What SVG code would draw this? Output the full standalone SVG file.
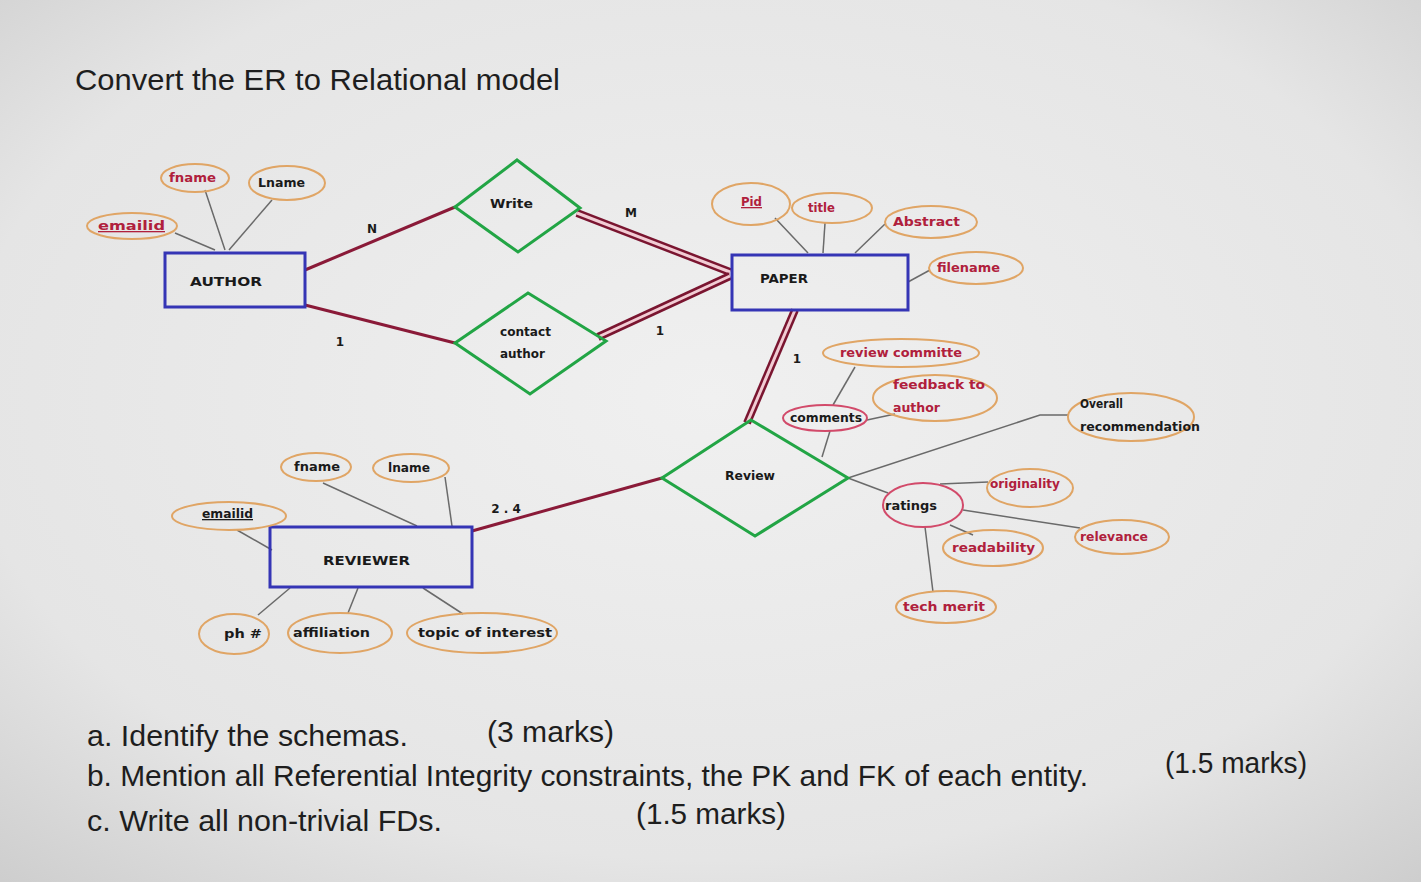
<svg xmlns="http://www.w3.org/2000/svg" width="1421" height="882" viewBox="0 0 1421 882">
<defs>
<radialGradient id="bg" cx="0.5" cy="0.45" r="0.75">
<stop offset="0" stop-color="#f0f0f0"/>
<stop offset="0.7" stop-color="#e5e5e5"/>
<stop offset="1" stop-color="#cdcdcd"/>
</radialGradient>
<style>
.ent{fill:none;stroke:#3535b5;stroke-width:3}
.rel{fill:none;stroke:#22a545;stroke-width:3}
.att{fill:none;stroke:#e0a565;stroke-width:2}
.attr{fill:none;stroke:#d24a6a;stroke-width:2}
.al{stroke:#6a6a6a;stroke-width:1.5;fill:none}
.ln{stroke:#8a1a38;stroke-width:3;fill:none}
.dbo{stroke:#7a1530;stroke-width:8;fill:none}
.dbi{stroke:#f2ccd4;stroke-width:3;fill:none}
.t{font-family:"DejaVu Sans",sans-serif;font-weight:bold;font-size:13px}
.r{fill:#b0203c}
.k{fill:#1a1a1a}
.big{font-family:"Liberation Sans",Arial,sans-serif;font-size:30px;fill:#1e1e1e}
.lbl{font-family:"DejaVu Sans",sans-serif;font-weight:bold;font-size:12px;fill:#1a1a1a}
</style>
</defs>
<rect width="1421" height="882" fill="url(#bg)"/>
<text class="big" x="75" y="90" textLength="485" lengthAdjust="spacingAndGlyphs">Convert the ER to Relational model</text>

<g id="connectors">
<line class="ln" x1="305" y1="270" x2="455" y2="207"/>
<line class="ln" x1="305" y1="305" x2="455" y2="343"/>
<line class="ln" x1="472" y1="531" x2="662" y2="478"/>
<line class="dbo" x1="577" y1="213" x2="730" y2="272"/>
<line class="dbi" x1="577" y1="213" x2="730" y2="272"/>
<line class="dbo" x1="598" y1="337" x2="730" y2="276"/>
<line class="dbi" x1="598" y1="337" x2="730" y2="276"/>
<line class="dbo" x1="795" y1="310" x2="747" y2="423"/>
<line class="dbi" x1="795" y1="310" x2="747" y2="423"/>
<line class="al" x1="205" y1="190" x2="225" y2="250"/>
<line class="al" x1="272" y1="200" x2="229" y2="250"/>
<line class="al" x1="175" y1="233" x2="215" y2="250"/>
<line class="al" x1="775" y1="218" x2="808" y2="253"/>
<line class="al" x1="825" y1="223" x2="823" y2="253"/>
<line class="al" x1="885" y1="224" x2="855" y2="253"/>
<line class="al" x1="930" y1="270" x2="908" y2="282"/>
<line class="al" x1="323" y1="483" x2="417" y2="526"/>
<line class="al" x1="445" y1="477" x2="452" y2="526"/>
<line class="al" x1="237" y1="530" x2="272" y2="550"/>
<line class="al" x1="290" y1="588" x2="258" y2="615"/>
<line class="al" x1="358" y1="588" x2="348" y2="613"/>
<line class="al" x1="423" y1="588" x2="463" y2="614"/>
<line class="al" x1="855" y1="367" x2="833" y2="405"/>
<line class="al" x1="867" y1="420" x2="895" y2="414"/>
<line class="al" x1="830" y1="431" x2="822" y2="457"/>
<polyline class="al" points="848,478 1040,415 1068,415"/>
<line class="al" x1="848" y1="478" x2="888" y2="493"/>
<line class="al" x1="940" y1="484" x2="988" y2="482"/>
<line class="al" x1="963" y1="510" x2="1080" y2="528"/>
<line class="al" x1="950" y1="525" x2="973" y2="535"/>
<line class="al" x1="925" y1="527" x2="933" y2="592"/>
</g>

<g id="labels">
<text class="lbl" x="372" y="233" text-anchor="middle">N</text>
<text class="lbl" x="340" y="346" text-anchor="middle">1</text>
<text class="lbl" x="631" y="217" text-anchor="middle">M</text>
<text class="lbl" x="660" y="335" text-anchor="middle">1</text>
<text class="lbl" x="797" y="363" text-anchor="middle">1</text>
<text class="lbl" x="506" y="513" text-anchor="middle">2 . 4</text>
</g>

<g id="author"><rect class="ent" x="165" y="253" width="140" height="54"/><text class="t k" x="190" y="286" textLength="72" lengthAdjust="spacingAndGlyphs">AUTHOR</text></g>
<g id="author-fname"><ellipse class="att" cx="195" cy="178" rx="34" ry="14"/><text class="t r" x="169" y="182" textLength="47" lengthAdjust="spacingAndGlyphs">fname</text></g>
<g id="author-lname"><ellipse class="att" cx="287" cy="183" rx="38" ry="17"/><text class="t k" x="258" y="187" textLength="47" lengthAdjust="spacingAndGlyphs">Lname</text></g>
<g id="author-emailid"><ellipse class="att" cx="132" cy="226" rx="45" ry="13"/><text class="t r" x="98" y="230" textLength="67" lengthAdjust="spacingAndGlyphs" text-decoration="underline">emailid</text></g>

<g id="write"><polygon class="rel" points="517,160 580,208 518,252 455,207"/><text class="t k" x="490" y="208" textLength="43" lengthAdjust="spacingAndGlyphs">Write</text></g>
<g id="contact-author"><polygon class="rel" points="528,293 606,341 530,394 455,343"/><text class="t k" x="500" y="336" textLength="51" lengthAdjust="spacingAndGlyphs">contact</text><text class="t k" x="500" y="358" textLength="45" lengthAdjust="spacingAndGlyphs">author</text></g>

<g id="paper"><rect class="ent" x="732" y="255" width="176" height="55"/><text class="t k" x="760" y="283" textLength="48" lengthAdjust="spacingAndGlyphs">PAPER</text></g>
<g id="paper-pid"><ellipse class="att" cx="751" cy="204" rx="39" ry="21"/><text class="t r" x="741" y="206" textLength="21" lengthAdjust="spacingAndGlyphs" text-decoration="underline">Pid</text></g>
<g id="paper-title"><ellipse class="att" cx="832" cy="208" rx="40" ry="15"/><text class="t r" x="808" y="212" textLength="27" lengthAdjust="spacingAndGlyphs">title</text></g>
<g id="paper-abstract"><ellipse class="att" cx="931" cy="222" rx="46" ry="16"/><text class="t r" x="893" y="226" textLength="67" lengthAdjust="spacingAndGlyphs">Abstract</text></g>
<g id="paper-filename"><ellipse class="att" cx="976" cy="268" rx="47" ry="16"/><text class="t r" x="937" y="272" textLength="63" lengthAdjust="spacingAndGlyphs">filename</text></g>

<g id="review"><polygon class="rel" points="751,420 848,478 755,536 662,478"/><text class="t k" x="725" y="480" textLength="50" lengthAdjust="spacingAndGlyphs">Review</text></g>
<g id="review-committe"><ellipse class="att" cx="901" cy="353" rx="78" ry="14"/><text class="t r" x="840" y="357" textLength="122" lengthAdjust="spacingAndGlyphs">review committe</text></g>
<g id="comments"><ellipse class="attr" cx="825" cy="418" rx="42" ry="13"/><text class="t k" x="790" y="422" textLength="72" lengthAdjust="spacingAndGlyphs">comments</text></g>
<g id="feedback"><ellipse class="att" cx="935" cy="398" rx="62" ry="23"/><text class="t r" x="893" y="389" textLength="92" lengthAdjust="spacingAndGlyphs">feedback to</text><text class="t r" x="893" y="412" textLength="47" lengthAdjust="spacingAndGlyphs">author</text></g>
<g id="overall"><ellipse class="att" cx="1131" cy="417" rx="63" ry="24"/><text class="t k" x="1080" y="408" textLength="43" lengthAdjust="spacingAndGlyphs">Overall</text><text class="t k" x="1080" y="431" textLength="120" lengthAdjust="spacingAndGlyphs">recommendation</text></g>
<g id="ratings"><ellipse class="attr" cx="923" cy="505" rx="40" ry="22"/><text class="t k" x="885" y="510" textLength="52" lengthAdjust="spacingAndGlyphs">ratings</text></g>
<g id="originality"><ellipse class="att" cx="1030" cy="488" rx="43" ry="19"/><text class="t r" x="990" y="488" textLength="70" lengthAdjust="spacingAndGlyphs">originality</text></g>
<g id="relevance"><ellipse class="att" cx="1122" cy="537" rx="47" ry="17"/><text class="t r" x="1080" y="541" textLength="68" lengthAdjust="spacingAndGlyphs">relevance</text></g>
<g id="readability"><ellipse class="att" cx="993" cy="548" rx="50" ry="18"/><text class="t r" x="952" y="552" textLength="83" lengthAdjust="spacingAndGlyphs">readability</text></g>
<g id="tech-merit"><ellipse class="att" cx="946" cy="607" rx="50" ry="16"/><text class="t r" x="903" y="611" textLength="82" lengthAdjust="spacingAndGlyphs">tech merit</text></g>

<g id="reviewer"><rect class="ent" x="270" y="527" width="202" height="60"/><text class="t k" x="323" y="565" textLength="87" lengthAdjust="spacingAndGlyphs">REVIEWER</text></g>
<g id="reviewer-fname"><ellipse class="att" cx="316" cy="467" rx="35" ry="14"/><text class="t k" x="294" y="471" textLength="46" lengthAdjust="spacingAndGlyphs">fname</text></g>
<g id="reviewer-lname"><ellipse class="att" cx="411" cy="468" rx="38" ry="14"/><text class="t k" x="388" y="472" textLength="42" lengthAdjust="spacingAndGlyphs">lname</text></g>
<g id="reviewer-emailid"><ellipse class="att" cx="229" cy="516" rx="57" ry="14"/><text class="t k" x="202" y="518" textLength="51" lengthAdjust="spacingAndGlyphs" text-decoration="underline">emailid</text></g>
<g id="reviewer-ph"><ellipse class="att" cx="234" cy="634" rx="35" ry="20"/><text class="t k" x="224" y="638" textLength="38" lengthAdjust="spacingAndGlyphs">ph #</text></g>
<g id="reviewer-affiliation"><ellipse class="att" cx="340" cy="633" rx="52" ry="20"/><text class="t k" x="293" y="637" textLength="77" lengthAdjust="spacingAndGlyphs">affiliation</text></g>
<g id="reviewer-topic"><ellipse class="att" cx="482" cy="633" rx="75" ry="20"/><text class="t k" x="418" y="637" textLength="134" lengthAdjust="spacingAndGlyphs">topic of interest</text></g>

<g id="questions">
<text class="big" x="87" y="746" textLength="321" lengthAdjust="spacingAndGlyphs">a. Identify the schemas.</text>
<text class="big" x="487" y="742" textLength="127" lengthAdjust="spacingAndGlyphs">(3 marks)</text>
<text class="big" x="87" y="786" textLength="1001" lengthAdjust="spacingAndGlyphs">b. Mention all Referential Integrity constraints, the PK and FK of each entity.</text>
<text class="big" x="1165" y="773" textLength="142" lengthAdjust="spacingAndGlyphs">(1.5 marks)</text>
<text class="big" x="87" y="831" textLength="355" lengthAdjust="spacingAndGlyphs">c. Write all non-trivial FDs.</text>
<text class="big" x="636" y="824" textLength="150" lengthAdjust="spacingAndGlyphs">(1.5 marks)</text>
</g>
</svg>
